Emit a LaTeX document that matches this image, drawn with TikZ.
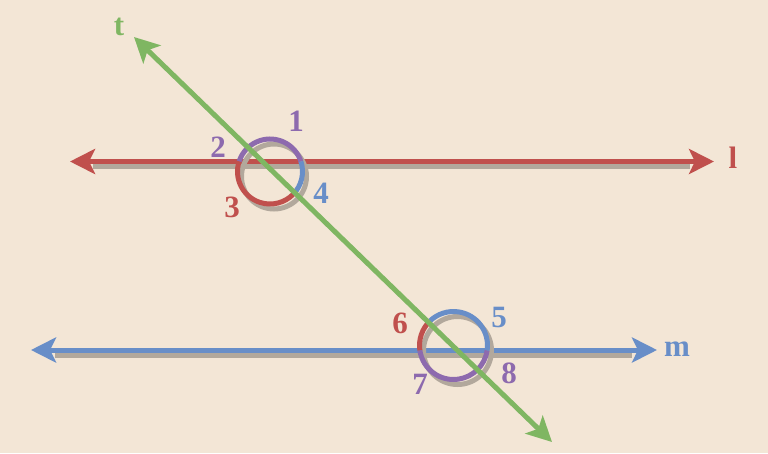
\documentclass[tikz,border=0pt]{standalone}
\usepackage{fontspec}
\setmainfont{Liberation Serif}
\usetikzlibrary{arrows.meta}
\definecolor{bg}{RGB}{243,230,214}
\definecolor{lred}{RGB}{192,80,77}
\definecolor{lblue}{RGB}{104,142,200}
\definecolor{lgreen}{RGB}{127,182,98}
\definecolor{lpurple}{RGB}{141,106,174}
\definecolor{shad}{RGB}{178,168,156}
\begin{document}
\begin{tikzpicture}[x=1pt,y=-1pt,
  tip/.style={-{Stealth[length=25pt,width=25pt,inset=6pt]}},
  twotip/.style={{Stealth[length=25pt,width=25pt,inset=6pt]}-{Stealth[length=25pt,width=25pt,inset=6pt]}},
  thick line/.style={line width=5pt},
  shadowline/.style={line width=5pt, draw=shad},
  lab/.style={font=\bfseries\fontsize{31}{31}\selectfont, inner sep=0pt}]
\fill[bg] (0,0) rectangle (768,453);
\useasboundingbox (0,0) rectangle (768,453);
% line endpoints
\coordinate (lL) at (70,161.5);
\coordinate (lR) at (714,161.5);
\coordinate (lLs) at (93,166.5);
\coordinate (lRs) at (690,166.5);
\coordinate (mL) at (31,350);
\coordinate (mR) at (657,350);
\coordinate (mLs) at (55,355);
\coordinate (mRs) at (632,355);
\coordinate (tA) at (134,37);
\coordinate (tB) at (552,442);
\coordinate (c1) at (270,171.5);
\coordinate (c2) at (453.5,345.5);
% line shadows
\draw[shadowline] (lLs) -- (lRs);
\draw[shadowline] (mLs) -- (mRs);
% lines
\draw[thick line, lred, twotip] (lL) -- (lR);
\draw[thick line, lblue, twotip] (mL) -- (mR);
% circle shadows
\draw[shadowline] ([shift={(4,5)}]c1) circle[radius=32.5];
\draw[shadowline] ([shift={(4,5)}]c2) circle[radius=34];
% circle 1 arcs
\draw[thick line, lpurple] (c1) ++(-18:32.5) arc[start angle=-18, end angle=-162, radius=32.5];
\draw[thick line, lred] (c1) ++(-162:32.5) arc[start angle=-162, end angle=-315.6, radius=32.5];
\draw[thick line, lblue] (c1) ++(44.4:32.5) arc[start angle=44.4, end angle=-18, radius=32.5];
% circle 2 arcs
\draw[thick line, lred] (c2) ++(-134:34) arc[start angle=-134, end angle=-188.5, radius=34];
\draw[thick line, lblue] (c2) ++(8.5:34) arc[start angle=8.5, end angle=-134, radius=34];
\draw[thick line, lpurple] (c2) ++(-188.5:34) arc[start angle=-188.5, end angle=-351.5, radius=34];
% transversal
\draw[thick line, lgreen, twotip] (tA) -- (tB);
% labels
\node[lab, lpurple] (n1) at (296,121) {1};
\node[lab, lpurple] (n2) at (218,147) {2};
\node[lab, lred] (n3) at (232,207) {3};
\node[lab, lblue] (n4) at (321,193) {4};
\node[lab, lblue] (n5) at (499,317) {5};
\node[lab, lred] (n6) at (400,323) {6};
\node[lab, lpurple] (n7) at (420,384) {7};
\node[lab, lpurple] (n8) at (509,373) {8};
\node[lab, lgreen] (nt) at (119,27) {t};
\node[lab, lred] (nl) at (733,158) {l};
\node[lab, lblue] (nm) at (677,349) {m};
\end{tikzpicture}
\end{document}
